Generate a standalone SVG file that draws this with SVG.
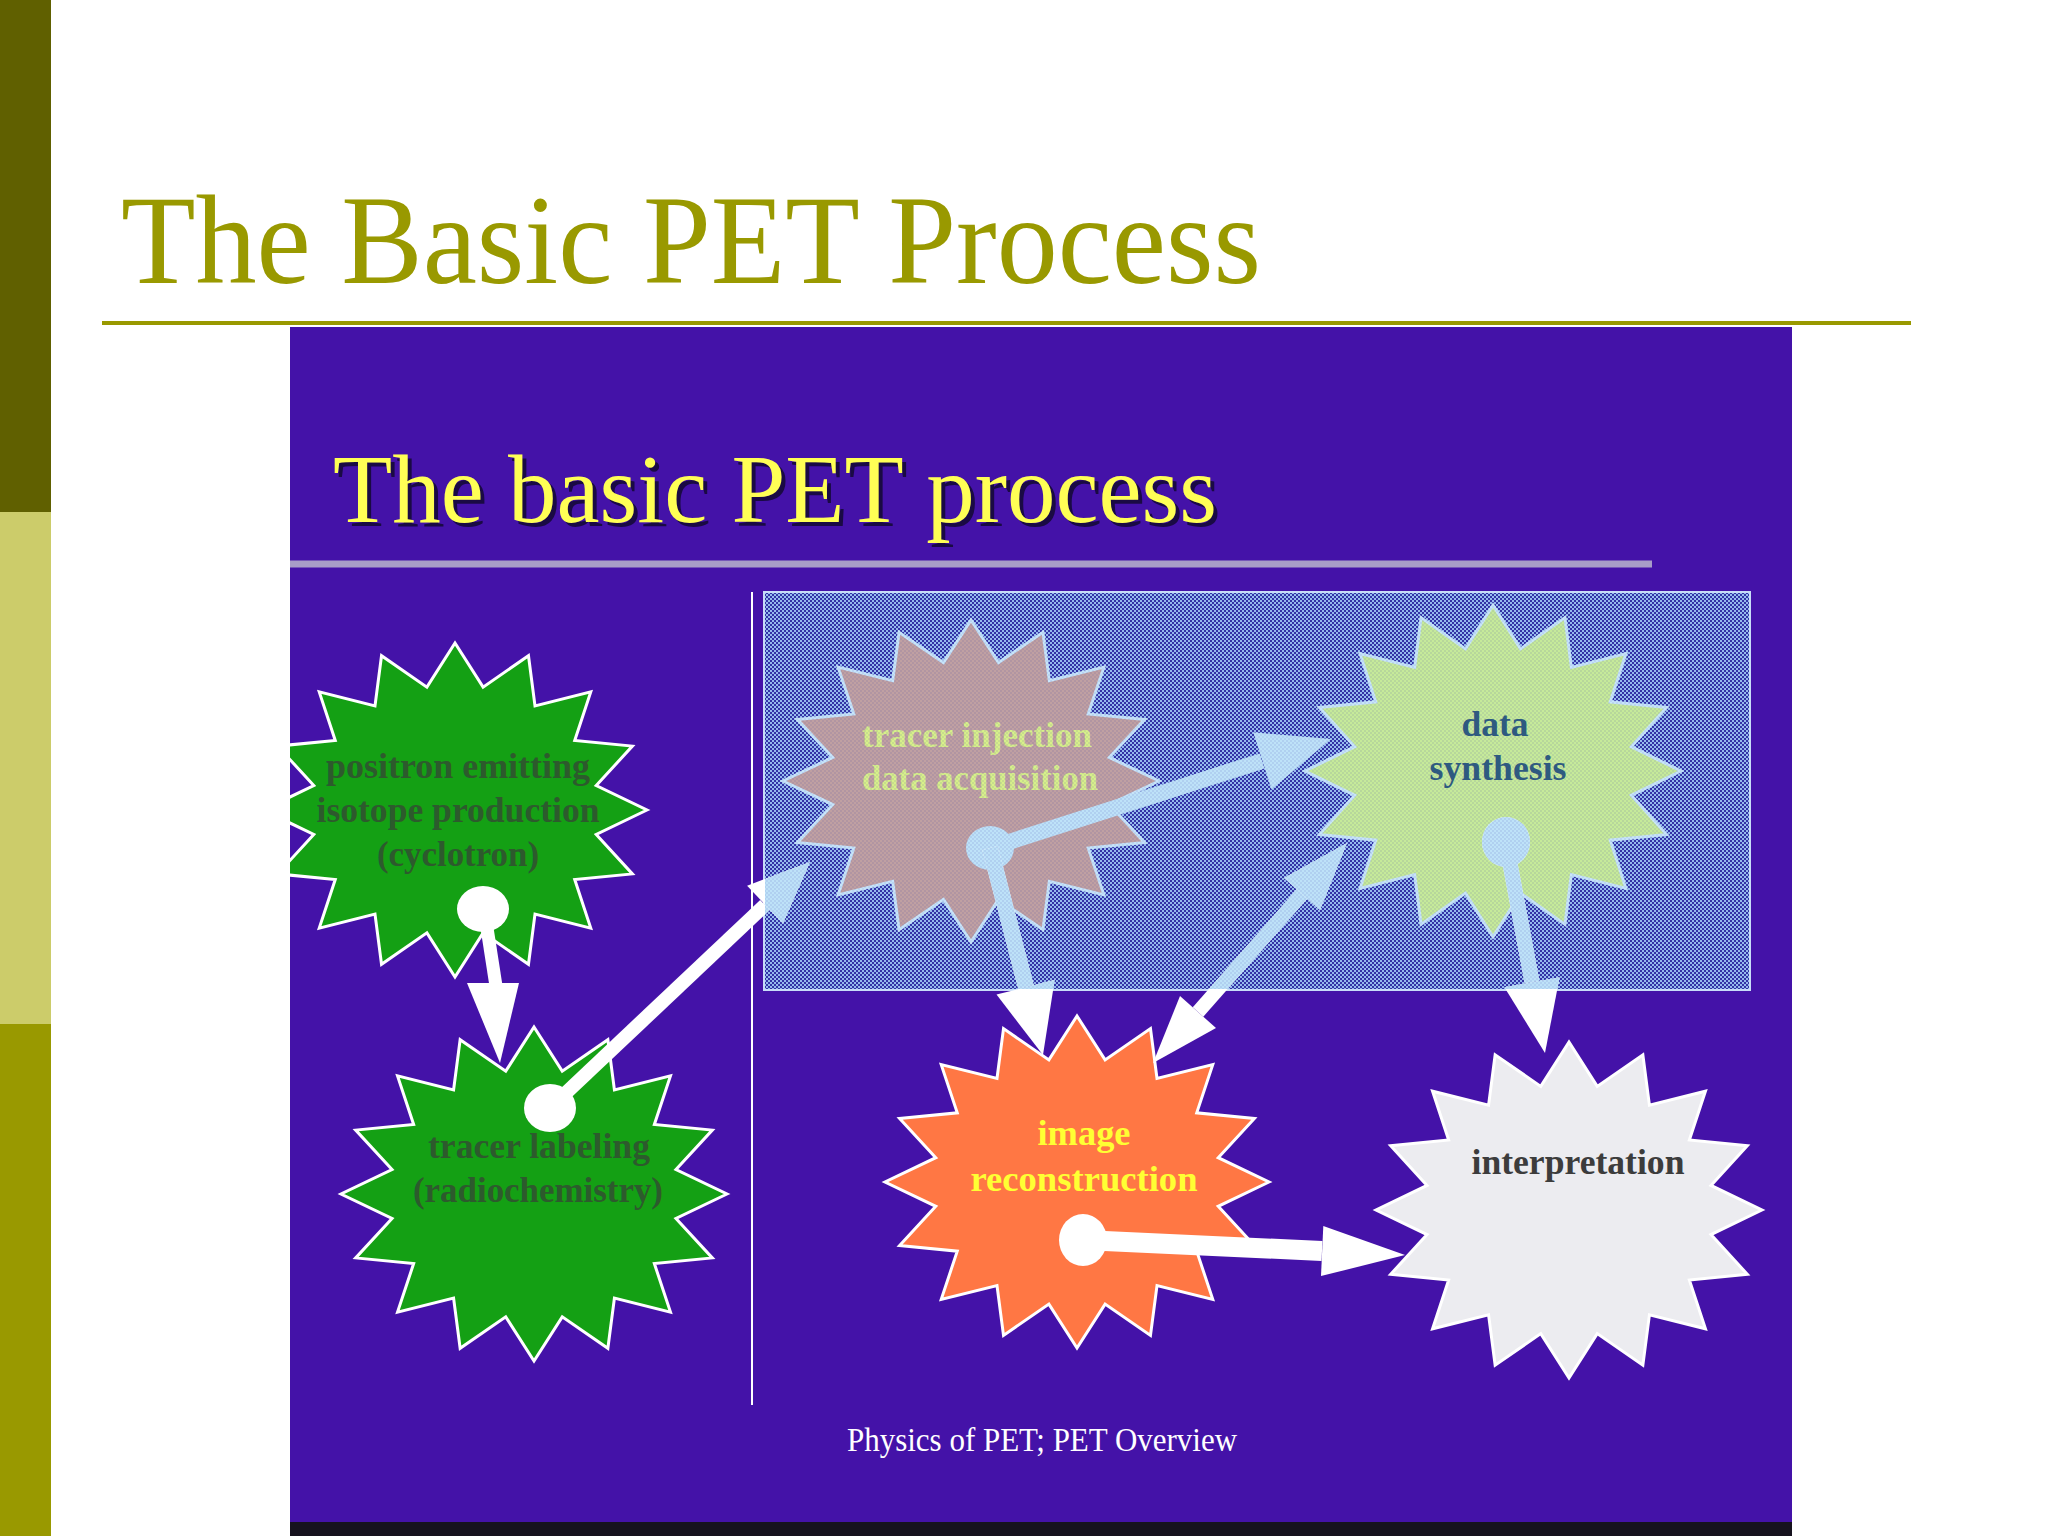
<svg xmlns="http://www.w3.org/2000/svg" xmlns:xlink="http://www.w3.org/1999/xlink" width="2048" height="1536" viewBox="0 0 2048 1536">
<style>
.lbl{font-family:"Liberation Serif","Times New Roman",serif;font-weight:bold;font-size:35px;text-anchor:middle}
.star{stroke-width:3}
.conn{stroke:currentColor;fill:none;stroke-linecap:butt}
.head{fill:currentColor}
</style>
<defs>
<polygon id="star" vector-effect="non-scaling-stroke" points="1,0 0.7356,0.1463 0.9239,0.3827 0.6236,0.4167 0.7071,0.7071 0.4167,0.6236 0.3827,0.9239 0.1463,0.7356 0,1 -0.1463,0.7356 -0.3827,0.9239 -0.4167,0.6236 -0.7071,0.7071 -0.6236,0.4167 -0.9239,0.3827 -0.7356,0.1463 -1,0 -0.7356,-0.1463 -0.9239,-0.3827 -0.6236,-0.4167 -0.7071,-0.7071 -0.4167,-0.6236 -0.3827,-0.9239 -0.1463,-0.7356 0,-1 0.1463,-0.7356 0.3827,-0.9239 0.4167,-0.6236 0.7071,-0.7071 0.6236,-0.4167 0.9239,-0.3827 0.7356,-0.1463"/>
<pattern id="hatch" width="4" height="4" patternUnits="userSpaceOnUse">
<rect width="4" height="4" fill="#3434A6"/>
<rect width="2" height="2" fill="#96BBEE"/>
<rect x="2" y="2" width="2" height="2" fill="#96BBEE"/>
</pattern>
<pattern id="dith" width="4" height="4" patternUnits="userSpaceOnUse">
<rect x="2" width="2" height="2" fill="#3434A6" opacity="0.1"/>
<rect y="2" width="2" height="2" fill="#3434A6" opacity="0.1"/>
</pattern>
<clipPath id="slide"><rect x="290" y="327" width="1502" height="1209"/></clipPath>
<clipPath id="inrect"><rect x="765" y="593" width="984" height="396"/></clipPath>
<g id="a2">
<ellipse cx="550" cy="1108" rx="26" ry="24" class="head"/>
<line x1="550" y1="1108" x2="765" y2="905" class="conn" stroke-width="14"/>
<polygon class="head" points="810,862 782.9,923.5 747.1,885.7"/>
</g>
<g id="a4">
<line x1="990" y1="848" x2="1026" y2="987" class="conn" stroke-width="16"/>
<polygon class="head" points="1043,1055 1054.7,979.8 996.5,994.6"/>
</g>
<g id="a5">
<line x1="1198" y1="1012" x2="1302" y2="894" class="conn" stroke-width="14"/>
<polygon class="head" points="1347,843 1320,909.9 1284,878.1"/>
<polygon class="head" points="1153,1063 1216,1027.9 1180,996.1"/>
</g>
<g id="a6">
<ellipse cx="1506" cy="842" rx="24" ry="25" class="head"/>
<line x1="1506" y1="842" x2="1532" y2="982" class="conn" stroke-width="15"/>
<polygon class="head" points="1545,1053 1559.6,977.2 1504.4,987.2"/>
</g>
</defs>

<rect width="2048" height="1536" fill="#ffffff"/>
<rect x="0" y="0" width="51" height="512" fill="#606000"/>
<rect x="0" y="512" width="51" height="512" fill="#CCCC6A"/>
<rect x="0" y="1024" width="51" height="512" fill="#999900"/>

<text x="121" y="283" font-family="'Liberation Serif','Times New Roman',serif" font-size="126" fill="#999900" textLength="1140" lengthAdjust="spacingAndGlyphs">The Basic PET Process</text>
<line x1="102" y1="323" x2="1911" y2="323" stroke="#999900" stroke-width="4"/>

<rect x="290" y="327" width="1502" height="1209" fill="#4412A8"/>
<rect x="290" y="1522" width="1502" height="14" fill="#16121E"/>

<text x="337" y="526" font-family="'Liberation Serif','Times New Roman',serif" font-size="98" fill="#1A0A44" textLength="884" lengthAdjust="spacingAndGlyphs">The basic PET process</text>
<text x="333" y="522" font-family="'Liberation Serif','Times New Roman',serif" font-size="98" fill="#FFFF55" textLength="884" lengthAdjust="spacingAndGlyphs">The basic PET process</text>
<line x1="290" y1="564" x2="1652" y2="564" stroke="#A89CC8" stroke-width="7"/>
<line x1="752" y1="592" x2="752" y2="1405" stroke="#ffffff" stroke-width="2"/>

<rect x="764" y="592" width="986" height="398" fill="url(#hatch)" stroke="#C8DCF8" stroke-width="2"/>

<g id="node-positron" clip-path="url(#slide)">
<use href="#star" class="star" fill="#14A014" stroke="#ffffff" transform="translate(455,810) scale(192,167)"/>
<text class="lbl" fill="#2D5A2D" x="458" y="778" textLength="264" lengthAdjust="spacingAndGlyphs">positron emitting</text>
<text class="lbl" fill="#2D5A2D" x="458" y="822" textLength="283" lengthAdjust="spacingAndGlyphs">isotope production</text>
<text class="lbl" fill="#2D5A2D" x="458" y="866" textLength="162" lengthAdjust="spacingAndGlyphs">(cyclotron)</text>
</g>

<g id="node-labeling">
<use href="#star" class="star" fill="#14A014" stroke="#ffffff" transform="translate(534,1194) scale(193,167)"/>
<text class="lbl" fill="#2D5A2D" x="539" y="1158" textLength="222" lengthAdjust="spacingAndGlyphs">tracer labeling</text>
<text class="lbl" fill="#2D5A2D" x="538" y="1202" textLength="250" lengthAdjust="spacingAndGlyphs">(radiochemistry)</text>
</g>

<g id="node-injection">
<use href="#star" class="star" fill="#C0A0A2" stroke="#C8E6FA" transform="translate(971,781) scale(188,161)"/>
<text class="lbl" fill="#D8F08A" x="977" y="747" textLength="230" lengthAdjust="spacingAndGlyphs">tracer injection</text>
<text class="lbl" fill="#D8F08A" x="980" y="790" textLength="236" lengthAdjust="spacingAndGlyphs">data acquisition</text>
</g>

<g id="node-synthesis">
<use href="#star" class="star" fill="#C6EA9A" stroke="#C8E6FA" transform="translate(1493,771) scale(188,166)"/>
<text class="lbl" fill="#2E5C7E" x="1495" y="736" textLength="67" lengthAdjust="spacingAndGlyphs">data</text>
<text class="lbl" fill="#2E5C7E" x="1498" y="780" textLength="137" lengthAdjust="spacingAndGlyphs">synthesis</text>
</g>

<g id="node-reconstruction">
<use href="#star" class="star" fill="#FF7744" stroke="#ffffff" transform="translate(1077,1182) scale(192,166)"/>
<text class="lbl" fill="#FFFF33" x="1084" y="1145" textLength="93" lengthAdjust="spacingAndGlyphs">image</text>
<text class="lbl" fill="#FFFF33" x="1084" y="1191" textLength="227" lengthAdjust="spacingAndGlyphs">reconstruction</text>
</g>

<g id="node-interpretation">
<use href="#star" class="star" fill="#ECECF0" stroke="#ffffff" transform="translate(1569,1210) scale(193,168)"/>
<text class="lbl" fill="#3C3C3C" x="1578" y="1174" textLength="213" lengthAdjust="spacingAndGlyphs">interpretation</text>
</g>

<g id="connectors">
<g id="c1" color="#ffffff">
<ellipse cx="483" cy="909" rx="26" ry="23" class="head"/>
<line x1="485" y1="915" x2="496" y2="986" class="conn" stroke-width="13"/>
<polygon class="head" points="467,983 519,983 500,1063"/>
</g>
<use href="#a2" color="#ffffff"/>
<use href="#a2" color="#BEE2F8" clip-path="url(#inrect)"/>
<g id="c3" color="#BEE2F8">
<ellipse cx="990" cy="848" rx="24" ry="22" class="head"/>
<line x1="990" y1="848" x2="1262" y2="761" class="conn" stroke-width="16"/>
<polygon class="head" points="1331,739 1271.5,789.5 1253.3,732.3"/>
</g>
<use href="#a4" color="#ffffff"/>
<use href="#a4" color="#BEE2F8" clip-path="url(#inrect)"/>
<use href="#a5" color="#ffffff"/>
<use href="#a5" color="#BEE2F8" clip-path="url(#inrect)"/>
<use href="#a6" color="#ffffff"/>
<use href="#a6" color="#BEE2F8" clip-path="url(#inrect)"/>
<g id="c7" color="#ffffff">
<ellipse cx="1083" cy="1240" rx="24" ry="26" class="head"/>
<line x1="1083" y1="1240" x2="1322" y2="1251" class="conn" stroke-width="20"/>
<polygon class="head" points="1405,1255 1321,1276.1 1323.3,1226.1"/>
</g>
</g>

<rect x="765" y="593" width="984" height="396" fill="url(#dith)"/>

<text x="1042" y="1451" font-family="'Liberation Serif','Times New Roman',serif" font-size="33" fill="#ffffff" text-anchor="middle" textLength="390" lengthAdjust="spacingAndGlyphs">Physics of PET; PET Overview</text>
</svg>
